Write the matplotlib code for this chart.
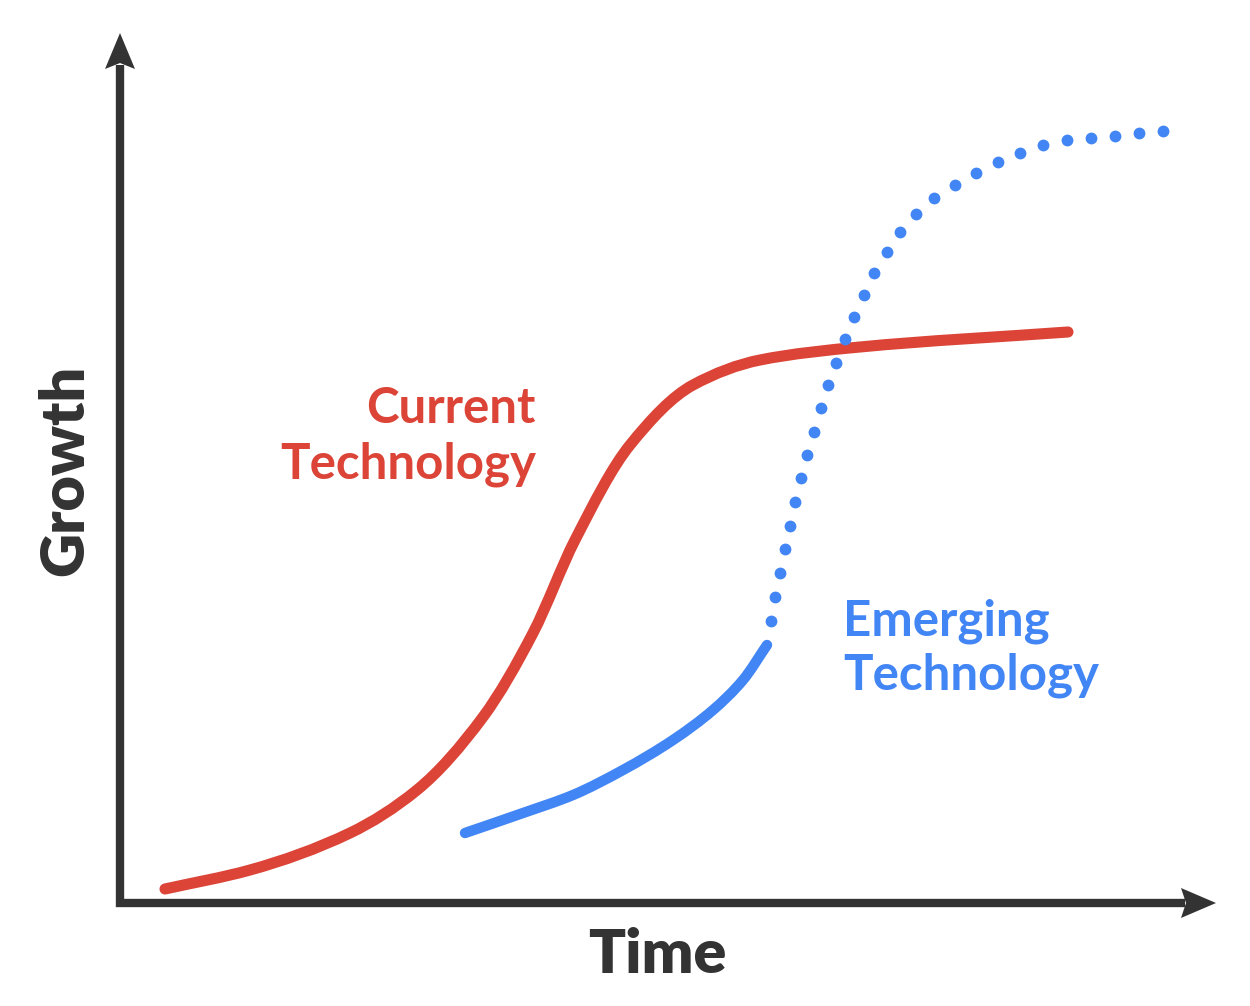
import numpy as np
import matplotlib.pyplot as plt
from matplotlib.patches import Polygon, PathPatch
from matplotlib.path import Path

plt.rcParams['font.family'] = ['Lato', 'DejaVu Sans']

# current technology (time, growth)
cur_t = [45, 130, 230, 297, 363, 413, 455, 510, 573, 640, 740, 948]
cur_g = [14, 33, 70, 113, 186, 270, 363, 458, 518, 543, 556, 571]

# emerging technology, observed part
em_t = [345, 403, 453, 503, 553, 593, 623, 647]
em_g = [70, 90, 108, 133, 163, 193, 223, 258]

# emerging technology, projected part (dots)
proj_t = [651, 655, 660, 665, 670, 675, 681, 687, 694, 701, 708, 716, 725, 734, 744,
          754, 767, 780, 796, 814, 835, 856, 878, 900, 923, 947, 971, 995, 1019, 1043]
proj_g = [282, 306, 330, 354, 377, 401, 425, 448, 471, 495, 518, 540, 564, 586, 608,
          630, 651, 671, 689, 705, 718, 730, 741, 750, 758, 763, 765, 767, 770, 772]

RED = '#DB4437'
BLUE = '#4285F4'
DARK = '#333333'


def smooth_path(xs, ys):
    # monotone cubic (fritsch-carlson) through the points, as bezier segments
    x = np.asarray(xs, float)
    y = np.asarray(ys, float)
    h = np.diff(x)
    d = np.diff(y) / h
    m = np.zeros_like(x)
    m[0], m[-1] = d[0], d[-1]
    for i in range(1, len(x) - 1):
        w1 = 2 * h[i] + h[i - 1]
        w2 = h[i] + 2 * h[i - 1]
        m[i] = (w1 + w2) / (w1 / d[i - 1] + w2 / d[i])
    verts = [(x[0], y[0])]
    codes = [Path.MOVETO]
    for i in range(len(x) - 1):
        verts += [(x[i] + h[i] / 3, y[i] + m[i] * h[i] / 3),
                  (x[i + 1] - h[i] / 3, y[i + 1] - m[i + 1] * h[i] / 3),
                  (x[i + 1], y[i + 1])]
        codes += [Path.CURVE4] * 3
    return Path(verts, codes)


fig = plt.figure(figsize=(12.5, 10.06), dpi=100)
ax = fig.add_axes([0, 0, 1, 1])
ax.set_xlim(-120, 1130)
ax.set_ylim(-103, 903)
ax.axis('off')

# axes with arrow heads
ax.plot([0, 0, 1065], [838, 0, 0], color=DARK, lw=6, solid_joinstyle='miter',
        solid_capstyle='butt', zorder=2)
ax.add_patch(Polygon([(0, 870), (-15, 834), (0, 840), (15, 834)], closed=True,
                     color=DARK, lw=0, zorder=3))
ax.add_patch(Polygon([(1096, 0), (1061, 15), (1066, 0), (1061, -15)], closed=True,
                     color=DARK, lw=0, zorder=3))

# curves
ax.add_patch(PathPatch(smooth_path(cur_t, cur_g), fill=False, edgecolor=RED, lw=8,
                       capstyle='round', joinstyle='round', zorder=4))
ax.add_patch(PathPatch(smooth_path(em_t, em_g), fill=False, edgecolor=BLUE, lw=7.5,
                       capstyle='round', joinstyle='round', zorder=5))
ax.plot(proj_t, proj_g, 'o', color=BLUE, ms=8.5, mew=0, zorder=5)

# labels
ax.text(537, -70, 'Time', color=DARK, fontsize=44, fontweight='heavy', ha='center', va='baseline')
ax.text(-37, 433, 'Growth', color=DARK, fontsize=44, fontweight='heavy', ha='center', va='baseline',
        rotation=90, rotation_mode='anchor')

ax.text(416, 480, 'Current', color=RED, fontsize=35.5, fontweight='bold', ha='right', va='baseline')
ax.text(416, 425, 'Technology', color=RED, fontsize=35.5, fontweight='bold', ha='right', va='baseline')
ax.text(723, 267, 'Emerging', color=BLUE, fontsize=35.5, fontweight='bold', ha='left', va='baseline')
ax.text(723, 213, 'Technology', color=BLUE, fontsize=35.5, fontweight='bold', ha='left', va='baseline')

plt.savefig('out.png', dpi=100)
